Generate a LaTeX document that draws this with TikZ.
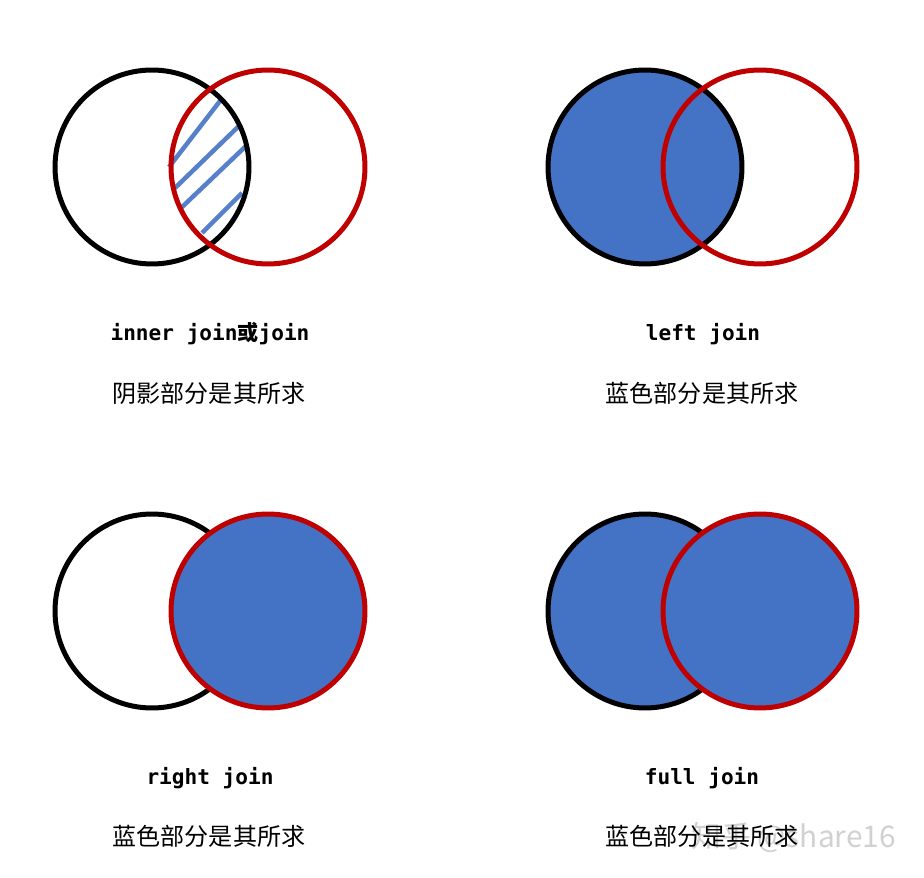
\documentclass[tikz,border=0pt]{standalone}
\usepackage{fontspec}
\setmonofont{DejaVu Sans Mono}
\newfontfamily\cjk{Noto Sans CJK SC}
\usetikzlibrary{backgrounds}

\begin{document}
\begin{tikzpicture}[x=0.02cm, y=-0.02cm,
    background rectangle/.style={fill=white},
    show background rectangle,
    setA/.style={draw=black, line width=0.1cm},
    setB/.style={draw=red!75!black, line width=0.1cm},
    part/.style={fill=joinblue},
    hatch/.style={draw=joinblue!90!white, line width=0.09cm},
    title/.style={font=\fontsize{12pt}{14pt}\selectfont\ttfamily\bfseries},
    caption/.style={font=\fontsize{13.7pt}{16pt}\selectfont\cjk}]
    \definecolor{joinblue}{HTML}{4472C4}
    \useasboundingbox (0,0) rectangle (924,878);

    % Centres of the eight circles
    \coordinate (A1) at (152,167);  \coordinate (B1) at (268,167);
    \coordinate (A2) at (645,167);  \coordinate (B2) at (760,167);
    \coordinate (A3) at (152,611);  \coordinate (B3) at (268,611);
    \coordinate (A4) at (645,611);  \coordinate (B4) at (760,611);

    % inner join: hatched overlap
    \draw[hatch] (169,167) -- (220,101);
    \draw[hatch] (175,188) -- (241,124);
    \draw[hatch] (180,209) -- (246,146);
    \draw[hatch] (202,233) -- (242,193);
    \draw[setA] (A1) circle (1.94cm);
    \draw[setB] (B1) circle (1.94cm);

    % left join: whole left set filled
    \fill[part] (A2) circle (1.94cm);
    \draw[setA] (A2) circle (1.94cm);
    \draw[setB] (B2) circle (1.94cm);

    % right join: whole right set filled
    \draw[setA] (A3) circle (1.94cm);
    \filldraw[part, setB] (B3) circle (1.94cm);

    % full join: both sets filled
    \filldraw[part, setA] (A4) circle (1.94cm);
    \filldraw[part, setB] (B4) circle (1.94cm);

    % Watermark (behind the caption)
    \node[font=\fontsize{17pt}{20pt}\selectfont\cjk, text=gray!45, opacity=0.8,
      anchor=east] (mark) at (902,838) {知乎 @share16};

    % Labels
    \node[title] (inner) at (210,334) {inner join{\cjk\bfseries 或}join};
    \node[caption] (innertext) at (209,393) {阴影部分是其所求};
    \node[title] (left) at (703,334) {left join};
    \node[caption] (lefttext) at (702,393) {蓝色部分是其所求};
    \node[title] (right) at (210,778) {right join};
    \node[caption] (righttext) at (209,836) {蓝色部分是其所求};
    \node[title] (full) at (702,778) {full join};
    \node[caption] (fulltext) at (702,836) {蓝色部分是其所求};
\end{tikzpicture}
\end{document}
